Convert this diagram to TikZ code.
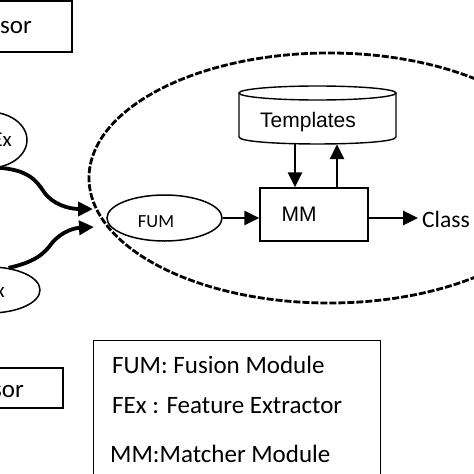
\documentclass[tikz,border=0pt]{standalone}
\usepackage{fontspec}
\setmainfont{Carlito}
\newfontfamily\arialf{Liberation Sans}
\usetikzlibrary{arrows.meta,shapes.geometric}
\newcommand\fsz[1]{\fontsize{#1}{#1}\selectfont}
\begin{document}
\begin{tikzpicture}[x=1pt,y=-1pt,
  box/.style={draw, line width=1.4pt, inner sep=0pt},
  ell/.style={draw, ellipse, line width=1.5pt, inner sep=0pt},
  txt/.style={inner sep=0pt},
  arr/.style={line width=2.9pt, -{Triangle[length=15pt,width=14pt]}},
  carr/.style={line width=3.8pt, -{Triangle[length=15pt,width=14pt]}}]
\clip (0,0) rectangle (474,474);
% sensors
\node[box, minimum width=130pt, minimum height=51pt] (s1) at (7,26.5) {};
\node[txt, anchor=base east, font=\fsz{25}] (s1t) at (32,33) {Sensor};
\node[box, minimum width=130pt, minimum height=40pt] (s2) at (-2,388) {};
\node[txt, anchor=base east, font=\fsz{25}] (s2t) at (24,397) {Sensor};
% feature extractors
\node[ell, minimum width=76pt, minimum height=56pt] (f1) at (-11,140) {};
\node[txt, anchor=base east, font=\fsz{21}] (f1t) at (12,146) {FEx};
\node[ell, minimum width=100pt, minimum height=46pt] (f2) at (-10,290) {};
\node[txt, anchor=base east, font=\fsz{21}] (f2t) at (5,297) {FEx};
% group
\node[draw, ellipse, line width=2.8pt, dash pattern=on 7pt off 2pt, minimum width=480pt, minimum height=250pt, inner sep=0pt] (grp) at (329,178) {};
% FUM
\node[ell, minimum width=115pt, minimum height=46pt] (fum) at (164.5,218) {};
\node[txt, anchor=base, font=\fsz{18.5}] (fumt) at (156,227) {FUM};
% MM
\node[box, minimum width=108pt, minimum height=53pt] (mm) at (314,214.5) {};
\node[txt, anchor=base, font=\arialf\fsz{21}] (mmt) at (299,221) {MM};
% Templates cylinder
\node[inner sep=0pt, minimum width=157pt, minimum height=57pt] (tpl) at (317.5,115.5) {};
\draw[line width=1.4pt] (317.5,93) ellipse [x radius=78.5, y radius=7];
\draw[line width=1.4pt] (239,93) -- (239,137) .. controls (239,146.3) and (396,146.3) .. (396,137) -- (396,93);
\node[txt, anchor=base, font=\arialf\fsz{21}] (tplt) at (308,127) {Templates};
% Class
\node[txt, anchor=base west, font=\fsz{23.5}] (cls) at (422,227) {Class};
% legend
\node[box, minimum width=287pt, minimum height=150pt, anchor=north west] (leg) at (93,340) {};
\node[txt, anchor=base west, font=\fsz{25}] (l1) at (112,373) {FUM: Fusion Module};
\node[txt, anchor=base west, font=\fsz{25}] (l2) at (112,413) {FEx : Feature Extractor};
\node[txt, anchor=base west, font=\fsz{25}] (l3) at (110,462) {MM:Matcher Module};
% connectors
\coordinate (xd) at (295,0);
\coordinate (xu) at (337,0);
\draw[arr] (tpl.south -| xd) -- (mm.north -| xd);
\draw[arr] (mm.north -| xu) -- (tpl.south -| xu);
\draw[arr] (fum.east) -- (fum.east -| mm.west);
\draw[arr, shorten >=4pt] (mm.east |- fum.east) -- (cls.west |- fum.east);
\coordinate (t1) at (93,209);
\coordinate (t2) at (94,227);
\draw[carr] (f1.-70) .. controls (28,170) and (36,180) .. (44,192) .. controls (53,205) and (70,209) .. (t1);
\draw[carr] (f2.50) .. controls (35,262) and (44,254) .. (52,243) .. controls (62,231) and (75,228) .. (t2);
\end{tikzpicture}
\end{document}
